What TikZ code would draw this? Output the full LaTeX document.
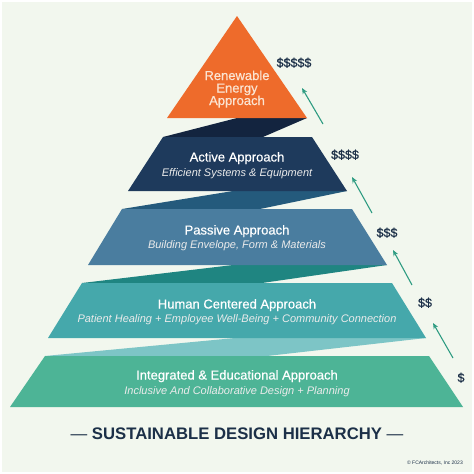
\documentclass[tikz,border=0pt]{standalone}
\usepackage{fontspec}
\setmainfont{Liberation Sans}
\newfontfamily\medfont{Liberation Sans}[FakeBold=0.5]
\usetikzlibrary{arrows.meta}
\definecolor{bg}{HTML}{F2F7EE}
\definecolor{orangeL}{HTML}{EE6B2B}
\definecolor{activeC}{HTML}{1E3A5C}
\definecolor{passiveC}{HTML}{4A7D9F}
\definecolor{humanC}{HTML}{45A8AB}
\definecolor{integC}{HTML}{4DB496}
\definecolor{ribA}{HTML}{13243F}
\definecolor{ribB}{HTML}{245A7C}
\definecolor{ribC}{HTML}{1F8581}
\definecolor{ribD}{HTML}{7DC5C6}
\definecolor{navyT}{HTML}{1C3048}
\definecolor{arrowC}{HTML}{2F9C82}
\definecolor{creamT}{HTML}{FBE4D2}
\tikzset{
  head/.style={font=\medfont\fontsize{13}{15}\selectfont, text=white, anchor=base, inner sep=0pt},
  subt/.style={font=\fontsize{11}{13}\selectfont\itshape, text=white!92!black, anchor=base, inner sep=0pt},
  cost/.style={font=\medfont\fontsize{12.5}{14}\selectfont, text=navyT, anchor=base, inner sep=0pt},
  uparrow/.style={draw=arrowC, line width=1.1pt, -{Stealth[length=6pt,width=5pt]}},
}
\begin{document}
\begin{tikzpicture}[x=1pt,y=-1pt]
\useasboundingbox (0,0) rectangle (474,474);
\fill[white] (0,0) rectangle (474,474);
\fill[bg] (2,2) rectangle (472,472);
% ribbons
\fill[ribA] (237,118) -- (307,118) -- (263,137) -- (163,137) -- cycle;
\fill[ribB] (233,191) -- (347,191) -- (260,209) -- (122,209) -- cycle;
\fill[ribC] (233,265) -- (387,265) -- (262,283) -- (82,283) -- cycle;
\fill[ribD] (235,338) -- (426,338) -- (267,356) -- (45,356) -- cycle;
% levels
\fill[orangeL] (237,16) -- (307,118) -- (167,118) -- cycle;
\fill[activeC] (163,137) -- (312,137) -- (347,191) -- (128,191) -- cycle;
\fill[passiveC] (122,209) -- (352,209) -- (387,265) -- (88,265) -- cycle;
\fill[humanC] (82,283) -- (392,283) -- (426,338) -- (48,338) -- cycle;
\fill[integC] (45,356) -- (429,356) -- (463,407) -- (10,407) -- cycle;
% texts
\node[head, text=creamT] (ren1) at (237,80) {Renewable};
\node[head, text=creamT] (ren2) at (237,92.5) {Energy};
\node[head, text=creamT] (ren3) at (237,105) {Approach};
\node[head] (act) at (237,161.5) {Active Approach};
\node[subt] (acts) at (237,176) {Efficient Systems \& Equipment};
\node[head] (pas) at (237,234.5) {Passive Approach};
\node[subt] (pass) at (237,248) {Building Envelope, Form \& Materials};
\node[head] (hum) at (237,308.5) {Human Centered Approach};
\node[subt] (hums) at (237,322) {Patient Healing + Employee Well-Being + Community Connection};
\node[head] (int) at (237,379.5) {Integrated \& Educational Approach};
\node[subt] (ints) at (237,394) {Inclusive And Collaborative Design + Planning};
% costs
\node[cost] (c5) at (294,67) {\$\$\$\$\$};
\node[cost] (c4) at (345,159) {\$\$\$\$};
\node[cost] (c3) at (387,237) {\$\$\$};
\node[cost] (c2) at (425,307) {\$\$};
\node[cost] (c1) at (461,382) {\$};
% arrows
\coordinate (a1s) at (323,124); \coordinate (a1e) at (302,88);
\coordinate (a2s) at (372,213); \coordinate (a2e) at (352,177);
\coordinate (a3s) at (412,285); \coordinate (a3e) at (393,250);
\coordinate (a4s) at (453,358); \coordinate (a4e) at (433,323);
\draw[uparrow] (a1s) -- (a1e);
\draw[uparrow] (a2s) -- (a2e);
\draw[uparrow] (a3s) -- (a3e);
\draw[uparrow] (a4s) -- (a4e);
% title
\node[font=\fontsize{16.7}{19}\selectfont\bfseries, text=navyT, anchor=base, inner sep=0pt] (title) at (237,439) {\textmd{—} SUSTAINABLE DESIGN HIERARCHY \textmd{—}};
\node[font=\fontsize{5}{6}\selectfont, text=navyT, anchor=base east, inner sep=0pt] (copy) at (463,464) {© FCArchitects, Inc 2023};
\end{tikzpicture}
\end{document}
